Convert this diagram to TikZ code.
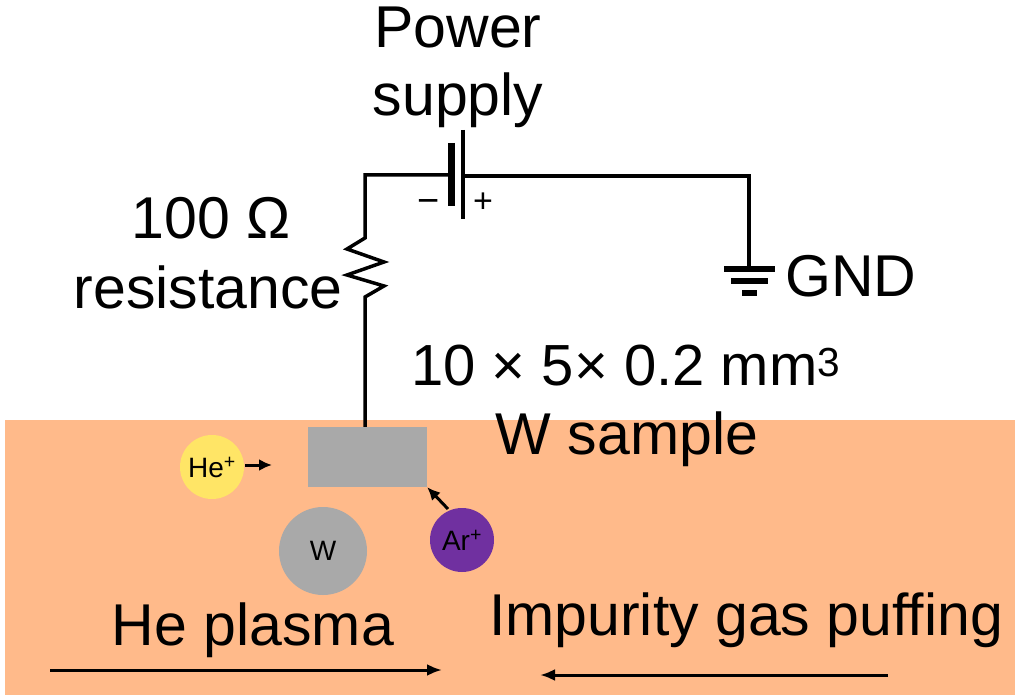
\documentclass[tikz,border=0pt]{standalone}
\usepackage{fontspec}
\setmainfont{Liberation Sans}
\usetikzlibrary{calc,arrows.meta}
\definecolor{plasmacol}{HTML}{FFBA8A}
\definecolor{samplecol}{HTML}{A9A9A9}
\definecolor{hecol}{HTML}{FFE566}
\definecolor{arcol}{HTML}{7030A0}
\tikzset{label/.style={inner sep=0, anchor=base, font=\fontsize{59}{62}\selectfont}}
\tikzset{ion/.style={circle, inner sep=0, font=\fontsize{28}{30}\selectfont}}
\tikzset{wire/.style={draw, line width=3.5pt, line join=miter}}
\tikzset{plate/.style={draw, line width=3.5pt}}
\tikzset{line/.style={draw, line width=3pt, -{Latex[length=13pt,width=12pt]}}}
\tikzset{flow/.style={draw, line width=3pt, -{Latex[length=15pt,width=12pt]}}}

\begin{document}
\begin{tikzpicture}[x=1pt, y=-1pt]
\useasboundingbox (0,0) rectangle (1020,700);

\node [fill=plasmacol, inner sep=0, minimum width=1010pt, minimum height=275pt] (plasma) at (510,557.5) {};
\node [fill=samplecol, inner sep=0, minimum width=119pt, minimum height=60pt] (sample) at (367.5,457) {};

\node [ion, fill=hecol, minimum size=64pt] (he) at (212,467) {He\textsuperscript{+}};
\node [ion, fill=samplecol, minimum size=88pt] (tungsten) at (323,551) {W};
\node [ion, fill=arcol, minimum size=64pt] (ar) at (462,540) {Ar\textsuperscript{+}};

\node [label] (power) at (458,48) {Power};
\node [label] (supply) at (458,116) {supply};
\node [label] (ohm) at (211,239) {100 Ω};
\node [label] (resistance) at (208,309) {resistance};
\node [label, font=\fontsize{58}{62}\selectfont] (size) at (626,386) {10 × 5× 0.2 mm\textsuperscript{3}};
\node [label] (wsample) at (627,454) {W sample};
\node [label] (gnd) at (851,297) {GND};
\node [label] (heplasma) at (253,645) {He plasma};
\node [label] (puffing) at (746,635) {Impurity gas puffing};
\node [label, font=\fontsize{38}{40}\selectfont] (minus) at (429,214) {−};
\node [label, font=\fontsize{34}{36}\selectfont] (plus) at (483,213) {+};

\coordinate (corner) at (365,175);
\coordinate (groundcorner) at (749,176);
\coordinate (battneg) at (451,175);
\coordinate (battpos) at (463,176);
\coordinate (groundtop) at (749,269);
\coordinate (restop) at (365,238);
\coordinate (resbot) at (365,297);

%BATTERY
\path [draw, line width=7pt] (451,143) -- (451,206);
\path [plate] (463,130) -- (463,219);

%WIRES
\path [wire] (battneg) -- (corner) -- (restop) -- (347,249) -- (384,262) -- (347,275) -- (384,286) -- (resbot) -- (sample.north -| resbot);
\path [wire] (battpos) -- (groundcorner) -- (groundtop);

%GROUND
\path [draw, line width=6pt] (724,269) -- (775,269);
\path [draw, line width=6pt] (731,281) -- (768,281);
\path [draw, line width=6pt] (742,293) -- (757,293);

%ION ARROWS
\coordinate (hetip) at (272,465);
\path [line] (he.east |- hetip) ++(1,0) -- (hetip);
\path [line] (ar) ++(-14,-31) -- (sample.south east);

%FLOW ARROWS
\coordinate (hestart) at (50,670);
\coordinate (heend) at (442,670);
\coordinate (gasstart) at (888,675);
\coordinate (gasend) at (540,675);
\path [flow] (hestart) -- (heend);
\path [flow] (gasstart) -- (gasend);

\end{tikzpicture}
\end{document}
